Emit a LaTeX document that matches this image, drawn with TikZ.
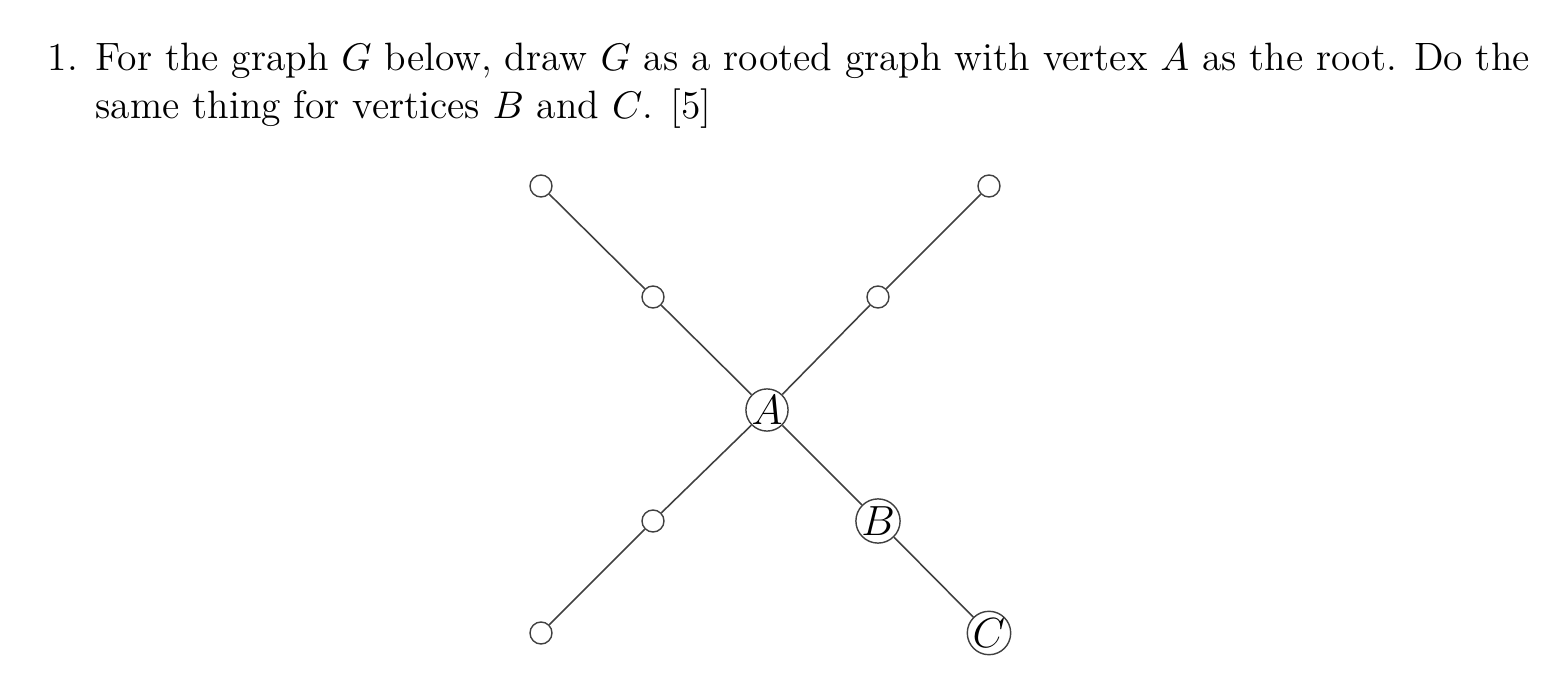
\documentclass[tikz,border=0pt]{standalone}
\begin{document}
\begin{tikzpicture}[x=0.1mm,y=-0.1mm,
  small/.style={circle,draw=black!75,fill=white,minimum size=2.2mm,inner sep=0pt},
  lab/.style={circle,draw=black!75,fill=white,minimum size=4.1mm,inner sep=0pt,font=\fontsize{12}{14}\selectfont},
  edge/.style={draw=black!75,line width=0.45pt}]
\useasboundingbox (0,0) rectangle (1565,698);
\begin{scope}[font=\fontsize{11.25}{14}\selectfont]
\node[anchor=base west,inner sep=0] (n1) at (47,70) {1.};
\node[anchor=base west,inner sep=0] (l1) at (95,70) {For the graph $G$ below, draw $G$ as a rooted graph with vertex $A$ as the root. Do the};
\node[anchor=base west,inner sep=0] (l2) at (95,118) {same thing for vertices $B$ and $C$. [5]};
\end{scope}
\node[lab] (A) at (767,410) {$A$};
\node[lab] (B) at (878,521) {$B$};
\node[lab] (C) at (989,633) {$C$};
\node[small] (a1) at (653,297) {};
\node[small] (a2) at (541,186) {};
\node[small] (b1) at (878,297) {};
\node[small] (b2) at (989,186) {};
\node[small] (c1) at (653,521) {};
\node[small] (c2) at (541,633) {};
\draw[edge] (A) -- (a1) -- (a2);
\draw[edge] (A) -- (b1) -- (b2);
\draw[edge] (A) -- (c1) -- (c2);
\draw[edge] (A) -- (B) -- (C);
\end{tikzpicture}
\end{document}
